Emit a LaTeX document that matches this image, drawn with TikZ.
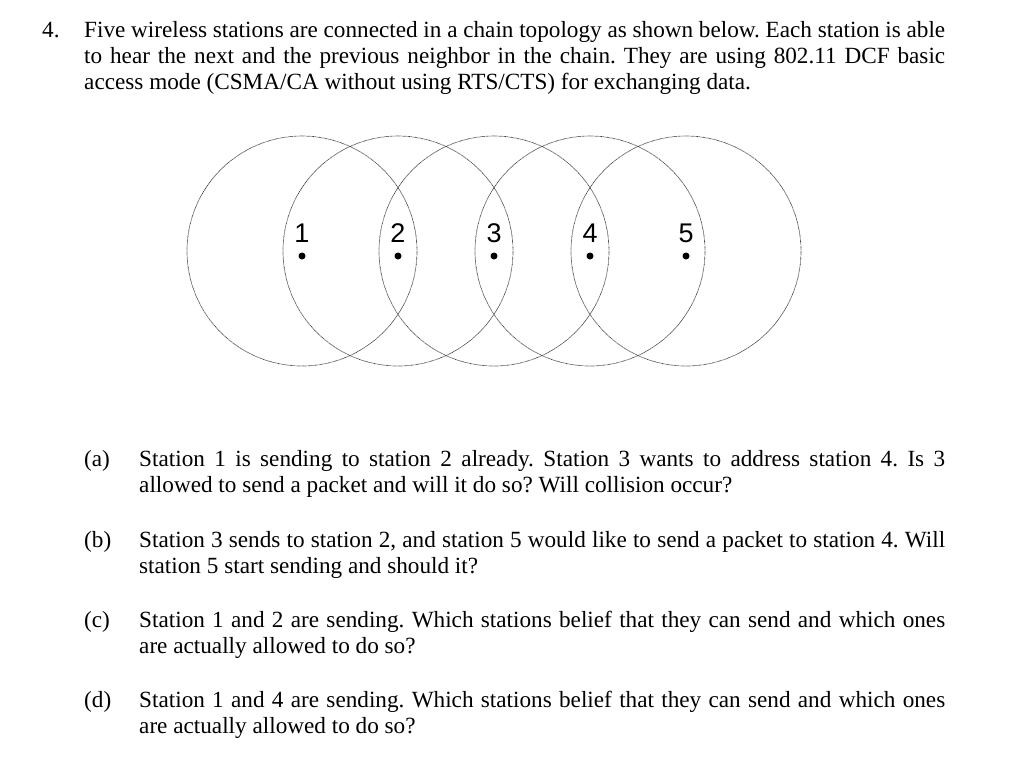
\documentclass[tikz,border=0pt]{standalone}
\usepackage{fontspec}
\setmainfont{Liberation Serif}
\newfontfamily\arialf{Liberation Sans}
\frenchspacing
\begin{document}
\begin{tikzpicture}[x=1pt,y=-1pt,
  txt/.style={anchor=base west,inner sep=0pt,font=\fontsize{23.2}{26}\selectfont},
  rng/.style={draw=black!85,dash pattern=on 0.6pt off 0.6pt,line width=0.7pt},
  num/.style={anchor=base,inner sep=0pt,font=\arialf\fontsize{27}{30}\selectfont},
  st/.style={circle,fill=black,inner sep=0pt,minimum size=7pt}]
\useasboundingbox (0,0) rectangle (1024,764);
\node[txt] (n4) at (42,37) {4.};
\node[txt] (l1) at (84,37) {\makebox[861pt][s]{Five wireless stations are connected in a chain topology as shown below. Each station is able}};
\node[txt] (l2) at (84,63) {\makebox[861pt][s]{to hear the next and the previous neighbor in the chain. They are using 802.11 DCF basic}};
\node[txt] (l3) at (84,89) {access mode (CSMA/CA without using RTS/CTS) for exchanging data.};
\foreach \i/\x in {1/302,2/398,3/494,4/590,5/686}{
  \draw[rng] (\x,251) circle (115);
  \node[st] (s\i) at (\x,256) {};
  \node[num] (t\i) at (\x,242) {\i};
}
\foreach \k/\y/\a/\b in {a/466/{\makebox[806pt][s]{Station 1 is sending to station 2 already. Station 3 wants to address station 4. Is 3}}/{allowed to send a packet and will it do so? Will collision occur?},
  b/547/{\makebox[806pt][s]{Station 3 sends to station 2, and station 5 would like to send a packet to station 4. Will}}/{station 5 start sending and should it?},
  c/627/{\makebox[806pt][s]{Station 1 and 2 are sending. Which stations belief that they can send and which ones}}/{are actually allowed to do so?},
  d/707/{\makebox[806pt][s]{Station 1 and 4 are sending. Which stations belief that they can send and which ones}}/{are actually allowed to do so?}}{
  \node[txt] (lab\k) at (84,\y) {(\k)};
  \node[txt] (p\k1) at (139,\y) {\a};
  \node[txt] (p\k2) at (139,\y+26) {\b};
}
\end{tikzpicture}
\end{document}
